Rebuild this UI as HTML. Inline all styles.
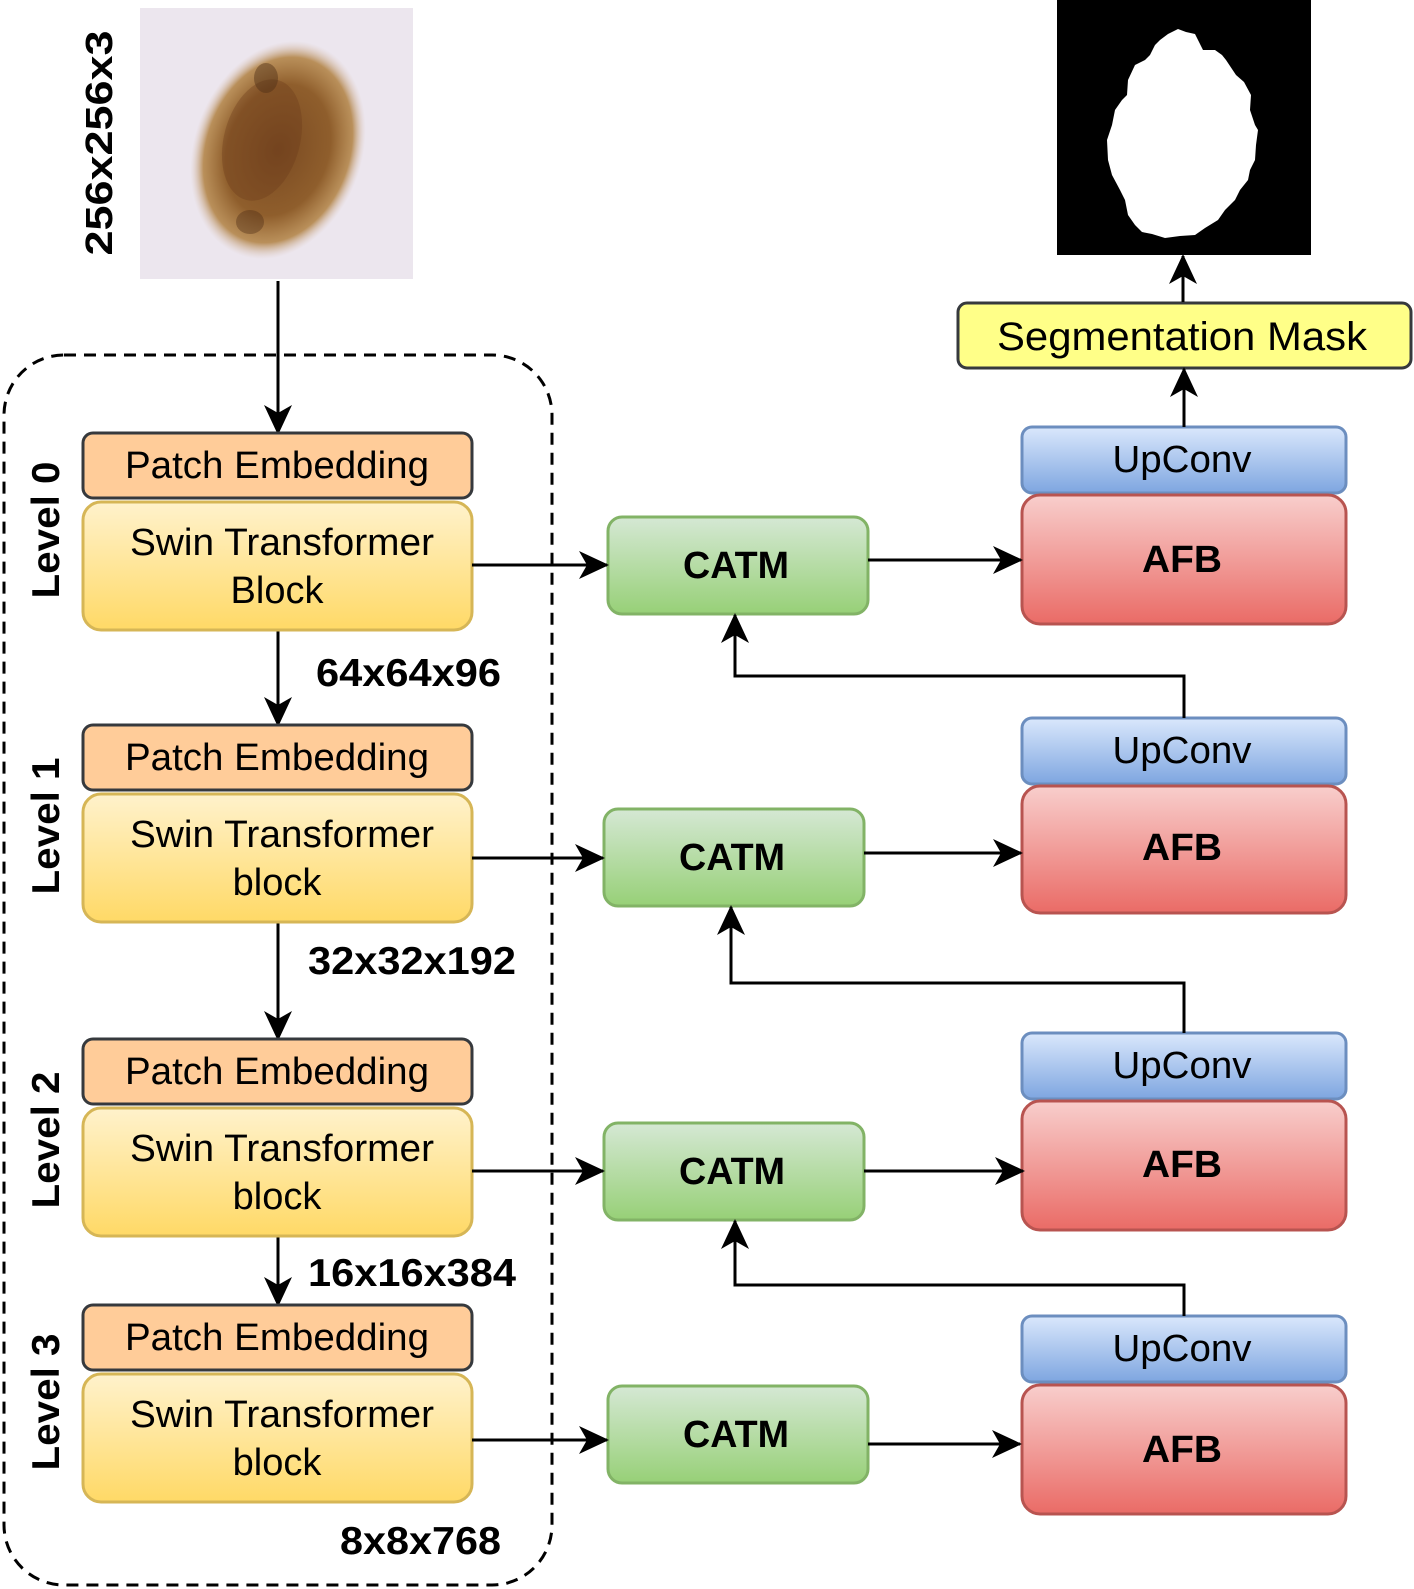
<!DOCTYPE html>
<html><head><meta charset="utf-8"><style>
html,body{margin:0;padding:0;background:#fff;}
svg{display:block;}
text{font-family:"Liberation Sans",Arial,sans-serif;}
</style></head><body>
<svg width="1414" height="1589" viewBox="0 0 1414 1589" xmlns="http://www.w3.org/2000/svg">
<defs>
<linearGradient id="gy" x1="0" y1="0" x2="0" y2="1"><stop offset="0" stop-color="#fff2cc"/><stop offset="1" stop-color="#ffd966"/></linearGradient>
<linearGradient id="gg" x1="0" y1="0" x2="0" y2="1"><stop offset="0" stop-color="#d5e8d4"/><stop offset="1" stop-color="#97d077"/></linearGradient>
<linearGradient id="gb" x1="0" y1="0" x2="0" y2="1"><stop offset="0" stop-color="#dae8fc"/><stop offset="1" stop-color="#7ea6e0"/></linearGradient>
<linearGradient id="gr" x1="0" y1="0" x2="0" y2="1"><stop offset="0" stop-color="#f8cecc"/><stop offset="1" stop-color="#ea6b66"/></linearGradient>
<radialGradient id="mole" cx="0.5" cy="0.5" r="0.5"><stop offset="0" stop-color="#7a4a22"/><stop offset="0.6" stop-color="#8f5e2c"/><stop offset="0.85" stop-color="#b08040" stop-opacity="0.85"/><stop offset="1" stop-color="#d8c0b0" stop-opacity="0"/></radialGradient>
<marker id="ar" viewBox="0 0 30 28" refX="28" refY="14" markerWidth="30" markerHeight="28" markerUnits="userSpaceOnUse" orient="auto"><path d="M0,0 L30,14 L0,28 L8,14 Z" fill="#000"/></marker>
</defs>

<!-- input photo -->
<rect x="140" y="8" width="273" height="271" fill="#ece6ee"/>
<ellipse cx="278" cy="150" rx="84" ry="112" fill="url(#mole)" transform="rotate(20 278 150)"/>
<ellipse cx="262" cy="140" rx="38" ry="62" fill="#6a3a1a" opacity="0.35" transform="rotate(15 262 140)"/>
<ellipse cx="266" cy="78" rx="12" ry="15" fill="#4e2e16" opacity="0.45"/>
<ellipse cx="250" cy="222" rx="14" ry="12" fill="#4e2e16" opacity="0.4"/>
<text transform="translate(112 143) rotate(-90)" font-size="38" font-weight="bold" text-anchor="middle" textLength="225" lengthAdjust="spacingAndGlyphs">256x256x3</text>

<!-- mask -->
<rect x="1057" y="0" width="254" height="255" fill="#000"/>
<path d="M1178,29 L1186,32 L1195,34 L1200,44 L1203,50 L1215,50 L1222,55 L1226,60 L1236,75 L1244,82 L1251,95 L1250,110 L1255,125 L1258,130 L1256,145 L1255,160 L1250,170 L1248,180 L1240,190 L1235,200 L1225,210 L1218,220 L1205,228 L1195,235 L1180,236 L1165,238 L1152,234 L1142,232 L1135,225 L1128,215 L1125,200 L1120,190 L1112,175 L1108,160 L1107,140 L1112,125 L1115,110 L1122,100 L1127,95 L1128,80 L1135,65 L1145,60 L1150,55 L1155,45 L1160,40 L1168,34 Z" fill="#fff"/>

<!-- dashed container -->
<rect x="4" y="355" width="548" height="1230" rx="60" ry="60" fill="none" stroke="#000" stroke-width="3" stroke-dasharray="12,8"/>

<!-- vertical main line -->
<line x1="278" y1="281" x2="278" y2="433" stroke="#000" stroke-width="3" marker-end="url(#ar)"/>
<line x1="278" y1="630" x2="278" y2="725" stroke="#000" stroke-width="3" marker-end="url(#ar)"/>
<line x1="278" y1="922" x2="278" y2="1039" stroke="#000" stroke-width="3" marker-end="url(#ar)"/>
<line x1="278" y1="1236" x2="278" y2="1305" stroke="#000" stroke-width="3" marker-end="url(#ar)"/>

<!-- left blocks -->
<g font-size="38" text-anchor="middle">
<rect x="83" y="433" width="389" height="65" rx="10" fill="#ffcc99" stroke="#36393d" stroke-width="3"/>
<text x="277" y="478" textLength="304" lengthAdjust="spacingAndGlyphs">Patch Embedding</text>
<rect x="83" y="502" width="389" height="128" rx="18" fill="url(#gy)" stroke="#d6b656" stroke-width="3"/>
<text x="282" y="555" textLength="304" lengthAdjust="spacingAndGlyphs">Swin Transformer</text><text x="277" y="603">Block</text>

<rect x="83" y="725" width="389" height="65" rx="10" fill="#ffcc99" stroke="#36393d" stroke-width="3"/>
<text x="277" y="770" textLength="304" lengthAdjust="spacingAndGlyphs">Patch Embedding</text>
<rect x="83" y="794" width="389" height="128" rx="18" fill="url(#gy)" stroke="#d6b656" stroke-width="3"/>
<text x="282" y="847" textLength="304" lengthAdjust="spacingAndGlyphs">Swin Transformer</text><text x="277" y="895">block</text>

<rect x="83" y="1039" width="389" height="65" rx="10" fill="#ffcc99" stroke="#36393d" stroke-width="3"/>
<text x="277" y="1084" textLength="304" lengthAdjust="spacingAndGlyphs">Patch Embedding</text>
<rect x="83" y="1108" width="389" height="128" rx="18" fill="url(#gy)" stroke="#d6b656" stroke-width="3"/>
<text x="282" y="1161" textLength="304" lengthAdjust="spacingAndGlyphs">Swin Transformer</text><text x="277" y="1209">block</text>

<rect x="83" y="1305" width="389" height="65" rx="10" fill="#ffcc99" stroke="#36393d" stroke-width="3"/>
<text x="277" y="1350" textLength="304" lengthAdjust="spacingAndGlyphs">Patch Embedding</text>
<rect x="83" y="1374" width="389" height="128" rx="18" fill="url(#gy)" stroke="#d6b656" stroke-width="3"/>
<text x="282" y="1427" textLength="304" lengthAdjust="spacingAndGlyphs">Swin Transformer</text><text x="277" y="1475">block</text>
</g>

<!-- level labels -->
<g font-size="39" font-weight="bold" text-anchor="middle">
<text transform="translate(59 530) rotate(-90)" textLength="137" lengthAdjust="spacingAndGlyphs">Level 0</text>
<text transform="translate(59 826) rotate(-90)" textLength="137" lengthAdjust="spacingAndGlyphs">Level 1</text>
<text transform="translate(59 1140) rotate(-90)" textLength="137" lengthAdjust="spacingAndGlyphs">Level 2</text>
<text transform="translate(59 1402) rotate(-90)" textLength="137" lengthAdjust="spacingAndGlyphs">Level 3</text>
</g>

<!-- dims -->
<g font-size="39" font-weight="bold">
<text x="316" y="686" textLength="185" lengthAdjust="spacingAndGlyphs">64x64x96</text>
<text x="308" y="974" textLength="208" lengthAdjust="spacingAndGlyphs">32x32x192</text>
<text x="308" y="1286" textLength="208" lengthAdjust="spacingAndGlyphs">16x16x384</text>
<text x="340" y="1554" textLength="161" lengthAdjust="spacingAndGlyphs">8x8x768</text>
</g>

<!-- CATM -->
<g font-size="38" font-weight="bold" text-anchor="middle">
<rect x="608" y="517" width="260" height="97" rx="14" fill="url(#gg)" stroke="#82b366" stroke-width="3"/>
<text x="736" y="578" textLength="106" lengthAdjust="spacingAndGlyphs">CATM</text>
<rect x="604" y="809" width="260" height="97" rx="14" fill="url(#gg)" stroke="#82b366" stroke-width="3"/>
<text x="732" y="870" textLength="106" lengthAdjust="spacingAndGlyphs">CATM</text>
<rect x="604" y="1123" width="260" height="97" rx="14" fill="url(#gg)" stroke="#82b366" stroke-width="3"/>
<text x="732" y="1184" textLength="106" lengthAdjust="spacingAndGlyphs">CATM</text>
<rect x="608" y="1386" width="260" height="97" rx="14" fill="url(#gg)" stroke="#82b366" stroke-width="3"/>
<text x="736" y="1447" textLength="106" lengthAdjust="spacingAndGlyphs">CATM</text>
</g>

<!-- right column -->
<g font-size="38" text-anchor="middle">
<rect x="1022" y="427" width="324" height="66" rx="10" fill="url(#gb)" stroke="#6c8ebf" stroke-width="3"/>
<text x="1182" y="472" textLength="139" lengthAdjust="spacingAndGlyphs">UpConv</text>
<rect x="1022" y="718" width="324" height="66" rx="10" fill="url(#gb)" stroke="#6c8ebf" stroke-width="3"/>
<text x="1182" y="763" textLength="139" lengthAdjust="spacingAndGlyphs">UpConv</text>
<rect x="1022" y="1033" width="324" height="66" rx="10" fill="url(#gb)" stroke="#6c8ebf" stroke-width="3"/>
<text x="1182" y="1078" textLength="139" lengthAdjust="spacingAndGlyphs">UpConv</text>
<rect x="1022" y="1316" width="324" height="66" rx="10" fill="url(#gb)" stroke="#6c8ebf" stroke-width="3"/>
<text x="1182" y="1361" textLength="139" lengthAdjust="spacingAndGlyphs">UpConv</text>
</g>
<g font-size="38" font-weight="bold" text-anchor="middle">
<rect x="1022" y="495" width="324" height="129" rx="18" fill="url(#gr)" stroke="#b85450" stroke-width="3"/>
<text x="1182" y="572" textLength="80" lengthAdjust="spacingAndGlyphs">AFB</text>
<rect x="1022" y="786" width="324" height="127" rx="18" fill="url(#gr)" stroke="#b85450" stroke-width="3"/>
<text x="1182" y="860" textLength="80" lengthAdjust="spacingAndGlyphs">AFB</text>
<rect x="1022" y="1101" width="324" height="129" rx="18" fill="url(#gr)" stroke="#b85450" stroke-width="3"/>
<text x="1182" y="1177" textLength="80" lengthAdjust="spacingAndGlyphs">AFB</text>
<rect x="1022" y="1385" width="324" height="129" rx="18" fill="url(#gr)" stroke="#b85450" stroke-width="3"/>
<text x="1182" y="1462" textLength="80" lengthAdjust="spacingAndGlyphs">AFB</text>
</g>

<!-- seg mask -->
<rect x="958" y="303" width="453" height="65" rx="9" fill="#ffff88" stroke="#36393d" stroke-width="3"/>
<text x="1182" y="350" font-size="40" text-anchor="middle" textLength="370" lengthAdjust="spacingAndGlyphs">Segmentation Mask</text>
<line x1="1184" y1="427" x2="1184" y2="369" stroke="#000" stroke-width="3" marker-end="url(#ar)"/>
<line x1="1183" y1="302" x2="1183" y2="256" stroke="#000" stroke-width="3" marker-end="url(#ar)"/>

<!-- horizontal arrows -->
<g stroke="#000" stroke-width="3" fill="none">
<line x1="472" y1="565" x2="607" y2="565" marker-end="url(#ar)"/>
<line x1="868" y1="560" x2="1021" y2="560" marker-end="url(#ar)"/>
<line x1="472" y1="858" x2="603" y2="858" marker-end="url(#ar)"/>
<line x1="864" y1="853" x2="1021" y2="853" marker-end="url(#ar)"/>
<line x1="472" y1="1171" x2="603" y2="1171" marker-end="url(#ar)"/>
<line x1="864" y1="1171" x2="1023" y2="1171" marker-end="url(#ar)"/>
<line x1="472" y1="1440" x2="607" y2="1440" marker-end="url(#ar)"/>
<line x1="868" y1="1444" x2="1020" y2="1444" marker-end="url(#ar)"/>
<polyline points="1184,718 1184,676 735,676 735,615" marker-end="url(#ar)"/>
<polyline points="1184,1033 1184,983 731,983 731,907" marker-end="url(#ar)"/>
<polyline points="1184,1316 1184,1285 735,1285 735,1221" marker-end="url(#ar)"/>
</g>
</svg>
</body></html>
